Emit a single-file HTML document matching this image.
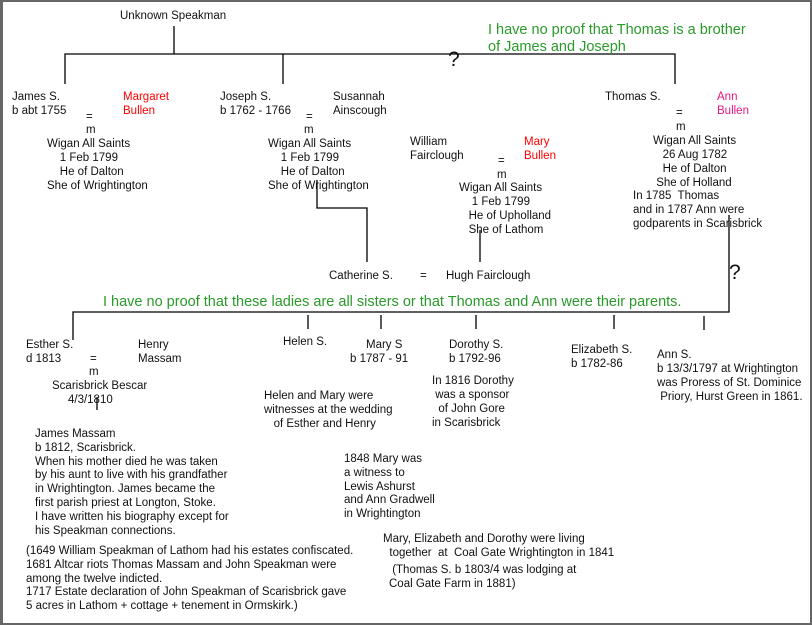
<!DOCTYPE html>
<html><head><meta charset="utf-8"><style>
html,body{margin:0;padding:0;}
body{width:812px;height:625px;position:relative;overflow:hidden;background:#fff;font-family:"Liberation Sans",Arial,sans-serif;font-size:11.5px;color:#111;}
#frame{position:absolute;left:0;top:0;width:812px;height:625px;box-sizing:border-box;border-left:3px solid #666;border-top:2px solid #666;border-right:2px solid #666;border-bottom:2px solid #666;}
.t{position:absolute;white-space:pre;line-height:14px;}
.r{color:#f00;}
.p{color:#e8157a;}
.g{color:#2a9a2a;font-size:14.5px;line-height:17px;}
.q{font-size:21px;line-height:22px;}
svg{position:absolute;left:0;top:0;}
</style></head><body>
<div id="frame"></div>
<svg width="812" height="625" stroke="#000" stroke-width="1.3" fill="none">
<path d="M174 26V54M65 84V54H675V84M283 54V84"/>
<path d="M317 180V208H367V262"/>
<path d="M480 230V262"/>
<path d="M729 215V312H73V340"/>
<path d="M308 315V329M381 315V329M476 315V329M614 315V329M704 316V330"/>
<path d="M97 397V410"/>
</svg>
<div class="t" style="left:120px;top:9px">Unknown Speakman</div>
<div class="t g" style="left:488px;top:22px">I have no proof that Thomas is a brother
of James and Joseph</div>
<div class="t q" style="left:448px;top:49px">?</div>

<div class="t" style="left:12px;top:90px">James S.
b abt 1755</div>
<div class="t r" style="left:123px;top:90px">Margaret
Bullen</div>
<div class="t" style="left:86px;top:110px">=</div>
<div class="t" style="left:86px;top:123px">m</div>
<div class="t" style="left:47px;top:137px">Wigan All Saints
    1 Feb 1799
    He of Dalton
She of Wrightington</div>

<div class="t" style="left:220px;top:90px">Joseph S.
b 1762 - 1766</div>
<div class="t" style="left:333px;top:90px">Susannah
Ainscough</div>
<div class="t" style="left:306px;top:110px">=</div>
<div class="t" style="left:304px;top:123px">m</div>
<div class="t" style="left:268px;top:137px">Wigan All Saints
    1 Feb 1799
    He of Dalton
She of Wrightington</div>

<div class="t" style="left:410px;top:135px">William
Fairclough</div>
<div class="t r" style="left:524px;top:135px">Mary
Bullen</div>
<div class="t" style="left:498px;top:154px">=</div>
<div class="t" style="left:497px;top:168px">m</div>
<div class="t" style="left:459px;top:181px">Wigan All Saints
    1 Feb 1799
   He of Upholland
   She of Lathom</div>

<div class="t" style="left:605px;top:90px">Thomas S.</div>
<div class="t p" style="left:717px;top:90px">Ann
Bullen</div>
<div class="t" style="left:676px;top:106px">=</div>
<div class="t" style="left:676px;top:120px">m</div>
<div class="t" style="left:653px;top:134px">Wigan All Saints
   26 Aug 1782
   He of Dalton
 She of Holland</div>
<div class="t" style="left:633px;top:189px">In 1785  Thomas
and in 1787 Ann were
godparents in Scarisbrick</div>
<div class="t q" style="left:729px;top:262px">?</div>

<div class="t" style="left:329px;top:269px">Catherine S.</div>
<div class="t" style="left:420px;top:269px">=</div>
<div class="t" style="left:446px;top:269px">Hugh Fairclough</div>

<div class="t g" style="left:103px;top:294px">I have no proof that these ladies are all sisters or that Thomas and Ann were their parents.</div>

<div class="t" style="left:26px;top:338px">Esther S.
d 1813</div>
<div class="t" style="left:90px;top:352px">=</div>
<div class="t" style="left:89px;top:365px">m</div>
<div class="t" style="left:138px;top:338px">Henry
Massam</div>
<div class="t" style="left:52px;top:379px">Scarisbrick Bescar
     4/3/1810</div>

<div class="t" style="left:283px;top:335px">Helen S.</div>
<div class="t" style="left:366px;top:338px">Mary S</div>
<div class="t" style="left:350px;top:352px">b 1787 - 91</div>
<div class="t" style="left:264px;top:389px">Helen and Mary were
witnesses at the wedding
   of Esther and Henry</div>

<div class="t" style="left:449px;top:338px">Dorothy S.
b 1792-96</div>
<div class="t" style="left:432px;top:374px">In 1816 Dorothy
 was a sponsor
  of John Gore
in Scarisbrick</div>

<div class="t" style="left:571px;top:343px">Elizabeth S.
b 1782-86</div>
<div class="t" style="left:657px;top:348px">Ann S.
b 13/3/1797 at Wrightington
was Proress of St. Dominice
 Priory, Hurst Green in 1861.</div>

<div class="t" style="left:35px;top:428px;line-height:13.8px">James Massam
b 1812, Scarisbrick.
When his mother died he was taken
by his aunt to live with his grandfather
in Wrightington. James became the
first parish priest at Longton, Stoke.
I have written his biography except for
his Speakman connections.</div>

<div class="t" style="left:26px;top:545px;line-height:13.8px">(1649 William Speakman of Lathom had his estates confiscated.
1681 Altcar riots Thomas Massam and John Speakman were
among the twelve indicted.
1717 Estate declaration of John Speakman of Scarisbrick gave
5 acres in Lathom + cottage + tenement in Ormskirk.)</div>

<div class="t" style="left:344px;top:453px;line-height:13.8px">1848 Mary was
a witness to
Lewis Ashurst
and Ann Gradwell
in Wrightington</div>

<div class="t" style="left:383px;top:532px">Mary, Elizabeth and Dorothy were living
  together  at  Coal Gate Wrightington in 1841</div>
<div class="t" style="left:389px;top:563px"> (Thomas S. b 1803/4 was lodging at
Coal Gate Farm in 1881)</div>
</body></html>
